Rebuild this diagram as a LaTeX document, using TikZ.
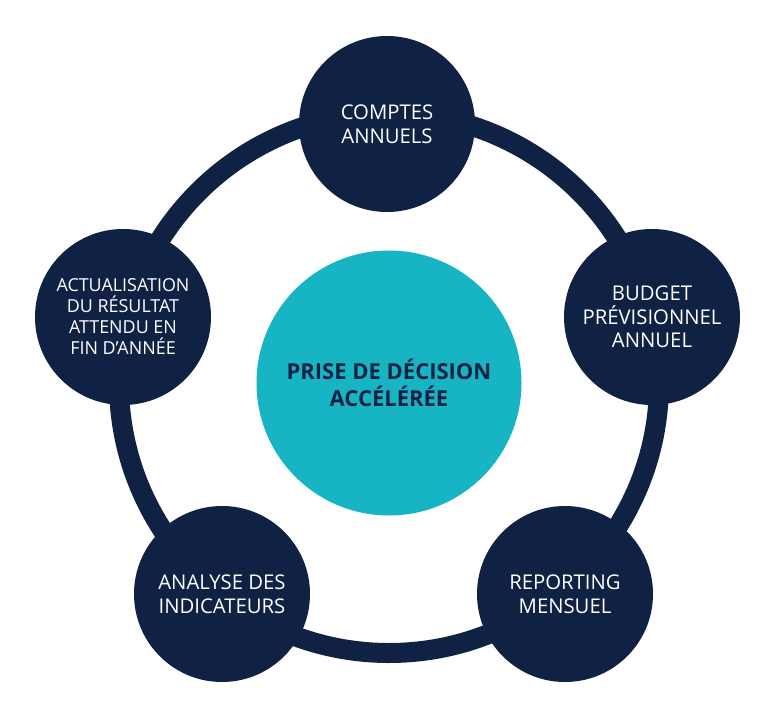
\documentclass[tikz,border=0pt]{standalone}
\usepackage{fontspec}
\setmainfont{Open Sans}
\definecolor{navy}{HTML}{0F2244}
\definecolor{teal}{HTML}{17B5C4}
\begin{document}
\begin{tikzpicture}[x=1pt,y=-1pt,
  stage/.style={circle,fill=navy,minimum size=176pt,inner sep=0pt,text=white,align=center,
    font=\fontsize{20.3}{23.7}\selectfont},
  stagesmall/.style={stage,font=\fontsize{17.9}{21}\selectfont},
  hub/.style={circle,fill=teal,minimum size=265pt,inner sep=0pt,text=navy,align=center,
    font=\bfseries\fontsize{22}{27.3}\selectfont},
  ring/.style={draw=navy,line width=20pt}]
\useasboundingbox (0,0) rectangle (768,714);
\coordinate (o) at (389,383);
\draw[ring] (o) circle (270pt);
\node[hub] (h) at (o) {PRISE DE DÉCISION\\ACCÉLÉRÉE};
\node[stage] (a) at (387,124) {COMPTES\\ANNUELS};
\node[stage] (b) at (652,317) {BUDGET\\PRÉVISIONNEL\\ANNUEL};
\node[stage] (c) at (565,594) {REPORTING\\MENSUEL};
\node[stage] (d) at (222,594) {ANALYSE DES\\INDICATEURS};
\node[stagesmall] (e) at (123,317) {ACTUALISATION\\DU RÉSULTAT\\ATTENDU EN\\FIN D’ANNÉE};
\end{tikzpicture}
\end{document}
